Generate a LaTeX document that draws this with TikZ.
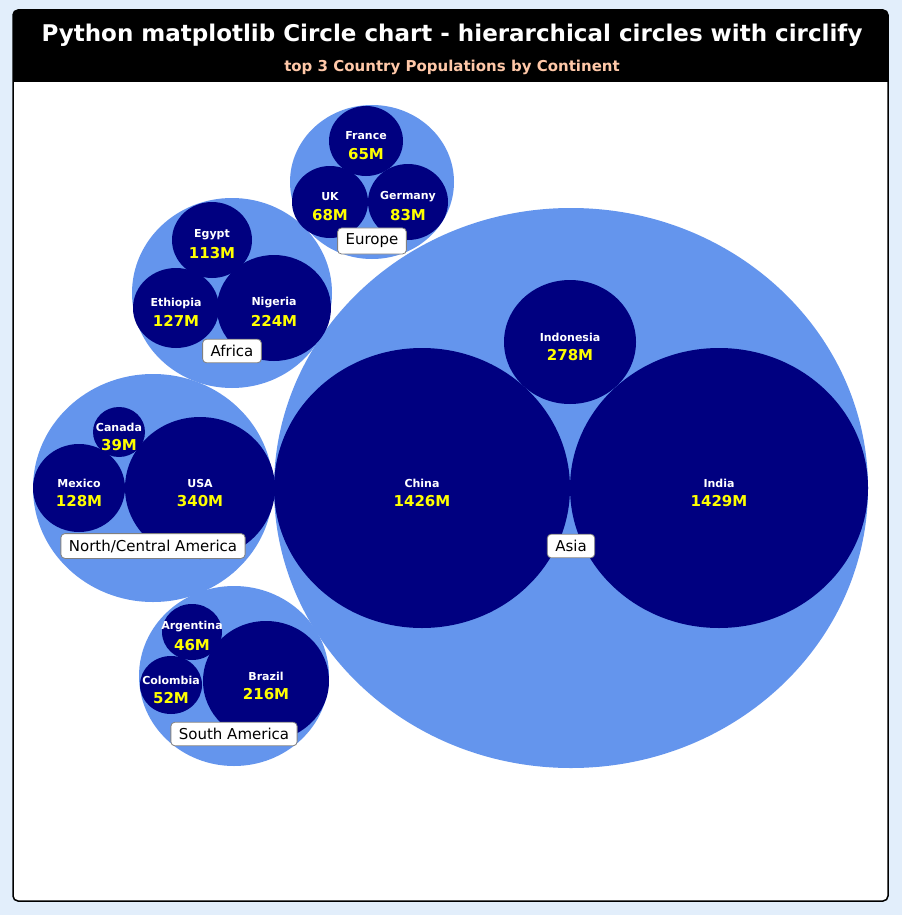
\documentclass[tikz,border=0pt]{standalone}
\usepackage{fontspec}
\setmainfont{DejaVu Sans}
\usetikzlibrary{positioning}
\definecolor{pagebg}{HTML}{E2EEFB}
\definecolor{outerc}{HTML}{6495ED}
\definecolor{innerc}{HTML}{000080}
\definecolor{subc}{HTML}{FFC8A8}
\definecolor{valc}{HTML}{FFFF00}

% one country circle: name, x, y, rx, ry, country, value
\newcommand{\countrycircle}[7]{%
  \fill[innerc] (#2,#3) ellipse [x radius=#4, y radius=#5];
  \node[cname] (#1) at (#2,#3-5) {#6};
  \node[cval] (#1v) at (#2,#3+13) {#7};
}

\begin{document}
\begin{tikzpicture}[
    x=1pt, y=-1pt,
    cname/.style={text=white, font=\bfseries\fontsize{11}{12}\selectfont, inner sep=0pt},
    cval/.style={text=valc, font=\bfseries\fontsize{15}{16}\selectfont, inner sep=0pt},
    contlabel/.style={draw=gray, fill=white, rounded corners=4pt, line width=0.8pt,
      font=\fontsize{15}{17}\selectfont, inner xsep=8pt, inner ysep=6pt}
]
    \useasboundingbox (0,0) rectangle (902,915);
    \fill[pagebg] (0,0) rectangle (902,915);
    \filldraw[fill=white, draw=black, line width=1.5pt, rounded corners=5pt] (13,10) rectangle (888,901);
    \fill[black, rounded corners=5pt] (13,10) rectangle (888,60);
    \fill[black] (13,40) rectangle (888,82);
    \node[text=white, font=\bfseries\fontsize{23}{26}\selectfont] (title) at (452,35)
      {Python matplotlib Circle chart - hierarchical circles with circlify};
    \node[text=subc, font=\bfseries\fontsize{15}{17}\selectfont] (subtitle) at (452,67)
      {top 3 Country Populations by Continent};

    % continents
    \fill[outerc] (571,488) ellipse [x radius=297, y radius=280];
    \fill[outerc] (372,182) ellipse [x radius=82, y radius=77];
    \fill[outerc] (232,293) ellipse [x radius=100, y radius=95];
    \fill[outerc] (153,488) ellipse [x radius=120, y radius=114];
    \fill[outerc] (234,676) ellipse [x radius=95, y radius=90];

    % countries
    \countrycircle{china}{422}{488}{148}{140}{China}{1426M}
    \countrycircle{india}{719}{488}{149}{140}{India}{1429M}
    \countrycircle{indonesia}{570}{342}{66}{62}{Indonesia}{278M}
    \countrycircle{france}{366}{141}{37}{35}{France}{65M}
    \countrycircle{uk}{330}{202}{38}{36}{UK}{68M}
    \countrycircle{germany}{408}{202}{40}{38}{Germany}{83M}
    \countrycircle{egypt}{212}{240}{40}{38}{Egypt}{113M}
    \countrycircle{ethiopia}{176}{308}{43}{40}{Ethiopia}{127M}
    \countrycircle{nigeria}{274}{308}{57}{53}{Nigeria}{224M}
    \countrycircle{canada}{119}{432}{26}{25}{Canada}{39M}
    \countrycircle{mexico}{79}{488}{46}{44}{Mexico}{128M}
    \countrycircle{usa}{200}{488}{75}{71}{USA}{340M}
    \countrycircle{argentina}{192}{632}{30}{28}{Argentina}{46M}
    \countrycircle{colombia}{171}{685}{31}{29}{Colombia}{52M}
    \countrycircle{brazil}{266}{681}{63}{60}{Brazil}{216M}

    % continent labels
    \node[contlabel] (asia) at (571,546) {Asia};
    \node[contlabel] (europe) at (372,241) {Europe};
    \node[contlabel] (africa) at (232,351) {Africa};
    \node[contlabel] (america) at (153,546) {North/Central America};
    \node[contlabel] (southam) at (234,734) {South America};
\end{tikzpicture}
\end{document}
